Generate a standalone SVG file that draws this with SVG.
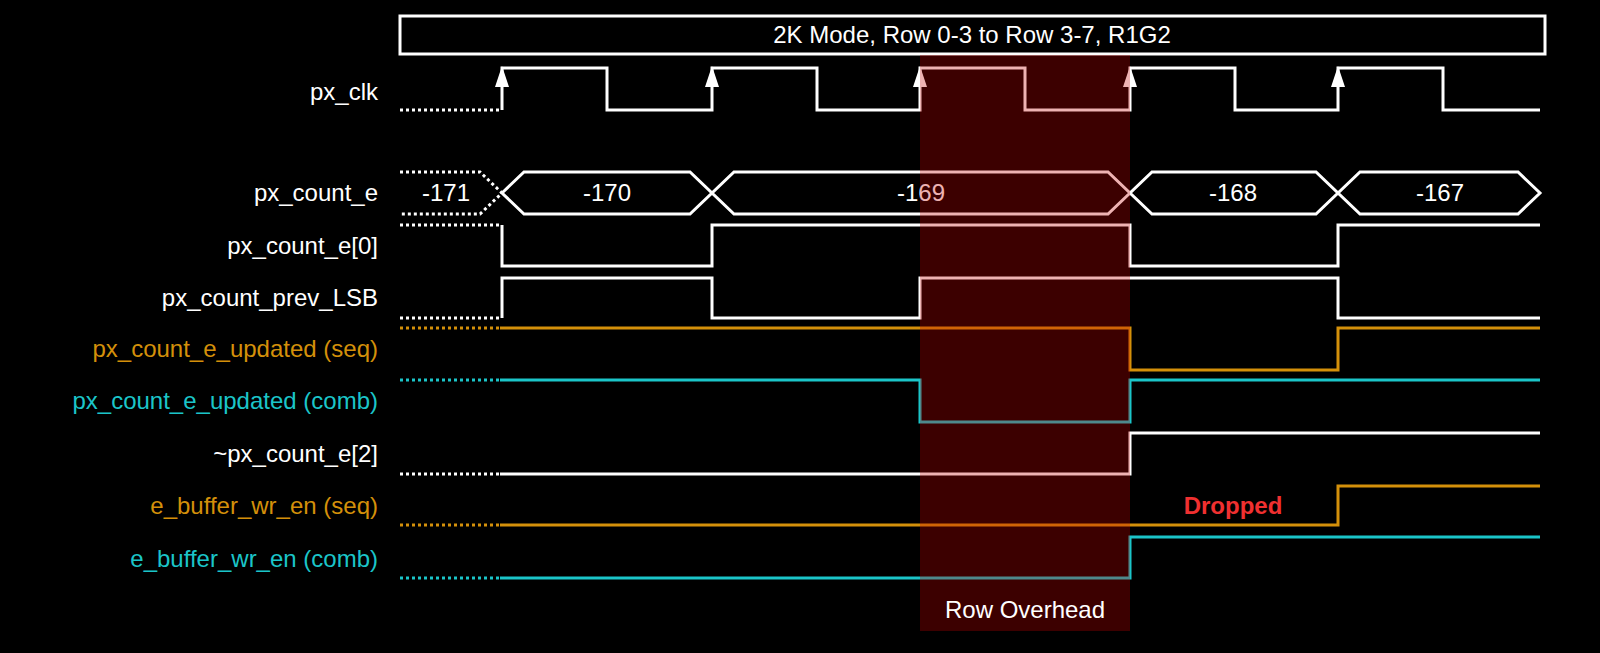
<svg xmlns="http://www.w3.org/2000/svg" width="1600" height="653" viewBox="0 0 1600 653">
<style>
text{font-family:"Liberation Sans",Arial,sans-serif;font-size:24px}
.lb{text-anchor:end}
.w{fill:none;stroke:#fff;stroke-width:3}
.o{fill:none;stroke:#d4900a;stroke-width:3}
.c{fill:none;stroke:#1bc5c9;stroke-width:3}
.d{stroke-dasharray:3 3}
</style>
<rect width="1600" height="653" fill="#000"/>
<g id="title"><rect x="400" y="16" width="1145" height="38" class="w"/><text x="972" y="43" text-anchor="middle" fill="#fff">2K Mode, Row 0-3 to Row 3-7, R1G2</text></g>
<g id="labels">
<text class="lb" x="378" y="100" fill="#fff">px_clk</text>
<text class="lb" x="378" y="201" fill="#fff">px_count_e</text>
<text class="lb" x="378" y="254" fill="#fff">px_count_e[0]</text>
<text class="lb" x="378" y="306" fill="#fff">px_count_prev_LSB</text>
<text class="lb" x="378" y="357" fill="#d4900a">px_count_e_updated (seq)</text>
<text class="lb" x="378" y="409" fill="#1bc5c9">px_count_e_updated (comb)</text>
<text class="lb" x="378" y="462" fill="#fff">~px_count_e[2]</text>
<text class="lb" x="378" y="514" fill="#d4900a">e_buffer_wr_en (seq)</text>
<text class="lb" x="378" y="567" fill="#1bc5c9">e_buffer_wr_en (comb)</text>
</g>
<g id="connectors">
<path class="w d" d="M400 110H500"/>
<path class="w" d="M502 110V68H607V110H712V68H817V110H920V68H1025V110H1130V68H1235V110H1338V68H1443V110H1540"/>
<g fill="#fff"><path d="M502 66l-7 21h14z"/><path d="M712 66l-7 21h14z"/><path d="M920 66l-7 21h14z"/><path d="M1130 66l-7 21h14z"/><path d="M1338 66l-7 21h14z"/></g>
<path class="w d" d="M400 172H480L502 193L480 214H400"/>
<path class="w" d="M502 193L524 172H690L734 214H1108L1152 172H1316L1360 214H1518L1540 193L1518 172H1360L1316 214H1152L1108 172H734L690 214H524Z"/>
<path class="w d" d="M400 225H500"/>
<path class="w" d="M502 225V266H712V225H1130V266H1338V225H1540"/>
<path class="w d" d="M400 318H500"/>
<path class="w" d="M502 318V278H712V318H920V278H1338V318H1540"/>
<path class="o d" d="M400 328H500"/>
<path class="o" d="M500 328H1130V370H1338V328H1540"/>
<path class="c d" d="M400 380H500"/>
<path class="c" d="M500 380H920V422H1130V380H1540"/>
<path class="w d" d="M400 474H500"/>
<path class="w" d="M500 474H1130V433H1540"/>
<path class="o d" d="M400 525H500"/>
<path class="o" d="M500 525H1338V486H1540"/>
<path class="c d" d="M400 578H500"/>
<path class="c" d="M500 578H1130V537H1540"/>
</g>
<g id="values" fill="#fff" text-anchor="middle">
<text x="446" y="201">-171</text><text x="607" y="201">-170</text><text x="921" y="201">-169</text><text x="1233" y="201">-168</text><text x="1440" y="201">-167</text>
</g>
<g id="overlay"><rect x="920" y="55" width="210" height="576" fill="#c80000" opacity="0.3"/><text x="1025" y="618" text-anchor="middle" fill="#fff">Row Overhead</text></g>
<text x="1233" y="514" text-anchor="middle" fill="#f03030" font-weight="bold">Dropped</text>
</svg>
